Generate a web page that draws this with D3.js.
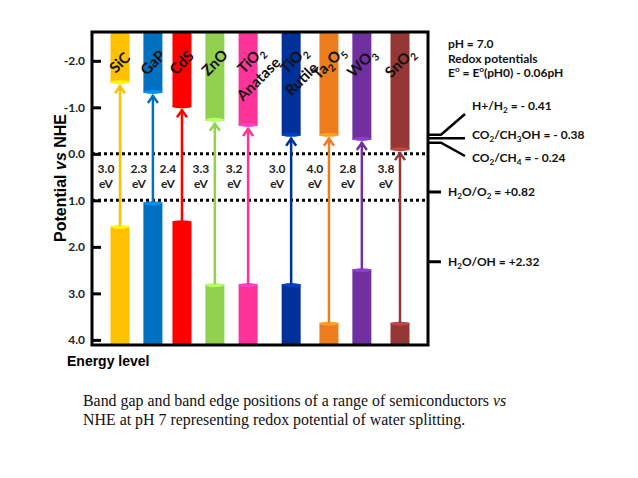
<!DOCTYPE html>
<html>
<head>
<meta charset="utf-8">
<script src="https://cdn.jsdelivr.net/npm/d3@7"></script>
<style>
  body { margin: 0; background: #fff; }
  svg { display: block; }
</style>
</head>
<body>
<div class="chart-container"></div>
<script>
//! DATA
const semis = ["SiC", "GaP", "CdS", "ZnO", "TiO_2|Anatase", "TiO_2|Rutile", "Ta_2O_5", "WO_3", "SnO_2"];
const slot = [0, 0.94, 1.77, 2.71, 3.66, 4.89, 5.97, 6.91, 8.0];
const cbEdge = [-1.52, -1.31, -1.0, -0.71, -0.6, -0.39, -0.39, -0.3, -0.08];
const vbEdge = [1.55, 1.04, 1.45, 2.8, 2.8, 2.8, 3.63, 2.48, 3.63];
const gapText = ["3.0", "2.3", "2.4", "3.3", "3.2", "3.0", "4.0", "2.8", "3.8"];
const colors = ["#FFC000", "#0070C0", "#FF0000", "#92D050", "#FF3399", "#00319A", "#ED7D1A", "#7030A0", "#953735"];

const yTicks = [-2, -1, 0, 1, 2, 3, 4];
const refLines = [0, 1.0];

const co2Labels = ["H+/H_2 = - 0.41", "CO_2/CH_3OH = - 0.38", "CO_2/CH_4 = - 0.24"];
const co2Values = [-0.41, -0.38, -0.24];
const waterLabels = ["H_2O/O_2 = +0.82", "H_2O/OH = +2.32"];
const waterValues = [0.82, 2.32];
const headerLines = ["pH = 7.0", "Redox potentials", "E^o = E^o(pH0) - 0.06pH"];

//! CONSTS
const WIDTH = 638, HEIGHT = 478;
const BOX = { left: 92, right: 428, top: 32, bottom: 345 };
const BAR_W = 19;
const LABEL_FONT = "Lato, 'Open Sans', sans-serif";

const svg = d3.select('.chart-container')
  .append('svg')
  .attr('width', WIDTH)
  .attr('height', HEIGHT);

//! SCALES
const xScale = d3.scaleLinear().domain([0, 8]).range([120, 400]);
const yScale = d3.scaleLinear().domain([-2.62, 4.11]).range([BOX.top, BOX.bottom]);

// text with _x subscripts and ^x superscripts
function rich(sel, str, size) {
  const parts = str.match(/_\w|\^\w|[^_^]+/g);
  let shift = 0;
  parts.forEach(p => {
    let dy = 0, txt = p, fs = size;
    if (p[0] === '_') { txt = p[1]; fs = size * 0.68; dy = size * 0.28; }
    else if (p[0] === '^') { txt = p[1]; fs = size * 0.68; dy = -size * 0.38; }
    sel.append('tspan')
      .attr('dy', dy - shift)
      .attr('font-size', fs)
      .text(txt);
    shift = dy;
  });
}

const data = semis.map((name, i) => ({
  name, x: xScale(slot[i]), cb: cbEdge[i], vb: vbEdge[i], gap: gapText[i], color: colors[i]
}));

//! BARS
const bars = svg.append('g');
bars.selectAll('rect.cb')
  .data(data).enter().append('rect')
  .attr('x', d => d.x - BAR_W / 2)
  .attr('y', BOX.top)
  .attr('width', BAR_W)
  .attr('height', d => yScale(d.cb) - BOX.top)
  .attr('fill', d => d.color);

bars.selectAll('rect.vb')
  .data(data).enter().append('rect')
  .attr('x', d => d.x - BAR_W / 2)
  .attr('y', d => yScale(d.vb))
  .attr('width', BAR_W)
  .attr('height', d => BOX.bottom - yScale(d.vb))
  .attr('fill', d => d.color);

// light cylinder caps
bars.selectAll('ellipse.cbcap')
  .data(data).enter().append('ellipse')
  .attr('cx', d => d.x)
  .attr('cy', d => yScale(d.cb) - 1)
  .attr('rx', BAR_W / 2)
  .attr('ry', 2)
  .attr('fill', d => d3.color(d.color).brighter(0.7));

bars.selectAll('ellipse.vbcap')
  .data(data).enter().append('ellipse')
  .attr('cx', d => d.x)
  .attr('cy', d => yScale(d.vb) + 1)
  .attr('rx', BAR_W / 2)
  .attr('ry', 2)
  .attr('fill', d => d3.color(d.color).brighter(0.7));

//! REFERENCE DOTTED LINES
svg.selectAll('line.ref')
  .data(refLines).enter().append('line')
  .attr('x1', BOX.left).attr('x2', BOX.right)
  .attr('y1', d => yScale(d)).attr('y2', d => yScale(d))
  .attr('stroke', '#000')
  .attr('stroke-width', 3)
  .attr('stroke-dasharray', '3,3');

//! ARROWS
const arrows = svg.append('g');
arrows.selectAll('line')
  .data(data).enter().append('line')
  .attr('x1', d => d.x).attr('x2', d => d.x)
  .attr('y1', d => yScale(d.vb))
  .attr('y2', d => yScale(d.cb) + 2)
  .attr('stroke', d => d.color)
  .attr('stroke-width', 2.5);

arrows.selectAll('path')
  .data(data).enter().append('path')
  .attr('d', d => {
    const t = yScale(d.cb) + 2;
    return `M${d.x - 5},${t + 8}L${d.x},${t + 1}L${d.x + 5},${t + 8}`;
  })
  .attr('fill', 'none')
  .attr('stroke', d => d.color)
  .attr('stroke-width', 2.5);

//! BAND GAP LABELS
const gapG = svg.append('g')
  .attr('font-family', LABEL_FONT)
  .attr('font-weight', 'bold')
  .attr('font-size', 12)
  .attr('fill', '#222')
  .attr('text-anchor', 'middle');
gapG.selectAll('text.v')
  .data(data).enter().append('text')
  .attr('x', d => d.x - 14)
  .attr('y', 173)
  .text(d => d.gap);
gapG.selectAll('text.u')
  .data(data).enter().append('text')
  .attr('x', d => d.x - 14)
  .attr('y', 188)
  .text('eV');

//! SEMICONDUCTOR NAMES
const nameG = svg.append('g')
  .attr('font-family', LABEL_FONT)
  .attr('font-weight', 'bold')
  .attr('font-size', 15)
  .attr('fill', '#111');
data.forEach(d => {
  const lines = d.name.split('|');
  const g = nameG.append('g')
    .attr('transform', `translate(${d.x},${yScale(-2) + 2}) rotate(-45)`);
  lines.forEach((ln, j) => {
    const t = g.append('text')
      .attr('text-anchor', 'middle')
      .attr('x', lines.length > 1 ? (j === 0 ? 4 : -4) : 0)
      .attr('y', j * 19 + 5);
    rich(t, ln, 15);
  });
});

//! FRAME + AXIS
svg.append('rect')
  .attr('x', BOX.left).attr('y', BOX.top)
  .attr('width', BOX.right - BOX.left)
  .attr('height', BOX.bottom - BOX.top)
  .attr('fill', 'none')
  .attr('stroke', '#000')
  .attr('stroke-width', 3);

const yAxis = d3.axisRight(yScale)
  .tickValues(yTicks)
  .tickFormat(d => d3.format('.1f')(d).replace('−', '-'))
  .tickSize(9);

const axisG = svg.append('g')
  .attr('transform', `translate(${BOX.left},0)`)
  .call(yAxis);
axisG.select('.domain').remove();
axisG.selectAll('.tick line').attr('stroke-width', 3).attr('stroke', '#000');
axisG.selectAll('.tick text')
  .attr('x', -7)
  .attr('text-anchor', 'end')
  .attr('font-family', LABEL_FONT)
  .attr('font-weight', 'bold')
  .attr('font-size', 12)
  .attr('fill', '#222');

//! AXIS TITLES
const yTitle = svg.append('text')
  .attr('transform', `translate(66,178) rotate(-90)`)
  .attr('text-anchor', 'middle')
  .attr('font-family', "'Liberation Sans', Arial, sans-serif")
  .attr('font-weight', 'bold')
  .attr('font-size', 16);
yTitle.append('tspan').text('Potential ');
yTitle.append('tspan').attr('font-style', 'italic').text('vs');
yTitle.append('tspan').text(' NHE');

svg.append('text')
  .attr('x', 67).attr('y', 366)
  .attr('font-family', "'Liberation Sans', Arial, sans-serif")
  .attr('font-weight', 'bold')
  .attr('font-size', 14)
  .text('Energy level');

//! REDOX ANNOTATIONS
const ann = svg.append('g')
  .attr('font-family', LABEL_FONT)
  .attr('font-weight', 'bold')
  .attr('font-size', 12)
  .attr('fill', '#111');

headerLines.forEach((s, i) => {
  rich(ann.append('text').attr('x', 448).attr('y', 48 + i * 14.5), s, 12);
});

// CO2 / H2 bracket
const stubY = [];
co2Values.forEach((v, i) => {
  let y = yScale(v);
  if (i > 0 && y - stubY[i - 1] < 3.5) y = stubY[i - 1] + 3.5;
  stubY.push(y);
});
const endY = [114, stubY[1], 156];
const bracket = svg.append('g')
  .attr('stroke', '#000')
  .attr('stroke-width', 2.5)
  .attr('fill', 'none');
stubY.forEach((y, i) => {
  bracket.append('path')
    .attr('d', `M${BOX.right},${y}L${441},${y}L${465},${endY[i]}`);
});
co2Labels.forEach((s, i) => {
  rich(ann.append('text').attr('x', 472).attr('y', [110, 139, 162][i]), s, 12);
});

// water ticks
svg.selectAll('line.water')
  .data(waterValues).enter().append('line')
  .attr('x1', BOX.right).attr('x2', 441)
  .attr('y1', d => yScale(d)).attr('y2', d => yScale(d))
  .attr('stroke', '#000')
  .attr('stroke-width', 3);
waterLabels.forEach((s, i) => {
  rich(ann.append('text').attr('x', 448).attr('y', yScale(waterValues[i]) + 4), s, 12);
});

//! CAPTION
const cap = svg.append('g')
  .attr('font-family', "'Liberation Serif', 'Times New Roman', serif")
  .attr('font-size', 15.9)
  .attr('fill', '#111');
const c1 = cap.append('text').attr('x', 83).attr('y', 406);
c1.append('tspan').text('Band gap and band edge positions of a range of semiconductors ');
c1.append('tspan').attr('font-style', 'italic').text('vs');
cap.append('text').attr('x', 83).attr('y', 425)
  .text('NHE at pH 7 representing redox potential of water splitting.');
</script>
</body>
</html>
